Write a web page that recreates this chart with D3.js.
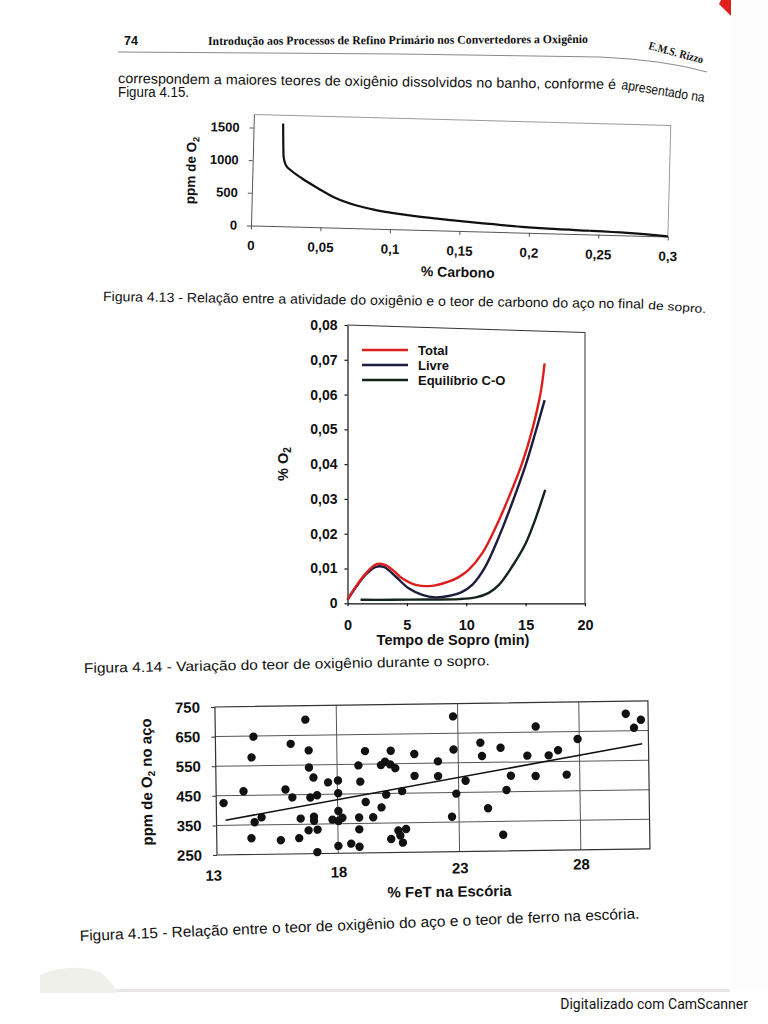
<!DOCTYPE html>
<html><head><meta charset="utf-8">
<script src="https://cdn.jsdelivr.net/npm/d3@7"></script>
<style>
body{margin:0;background:#fff;}
svg{display:block;}
text{font-family:"Liberation Sans",Arial,sans-serif;fill:#111;}
.serif{font-family:"Liberation Serif","Times New Roman",serif;}
.ax text{font-weight:bold;fill:#111;}
</style></head><body>
<svg id="page" width="768" height="1024"></svg>
<script>
// ---------- Figura 4.13 ----------
const c1Carbon = [0.0212,0.0222,0.024,0.0276,0.0359,0.0477,0.0595,0.0762,0.088,0.1,0.1236,0.1472,0.1717,0.1972,0.2203,0.2441,0.2706,0.3];
const c1Ppm    = [1573,1060,936,861,740,594,462,345,292,252,196,156,120,85,66,56,38,0];
const c1XTicks = [0,0.05,0.1,0.15,0.2,0.25,0.3];
const c1XLabels = ["0","0,05","0,1","0,15","0,2","0,25","0,3"];
const c1YTicks = [0,500,1000,1500];
const c1YLabels = ["0","500","1000","1500"];

// ---------- Figura 4.14 ----------
const c2XTicks = [0,5,10,15,20];
const c2XLabels = ["0","5","10","15","20"];
const c2YTicks = [0,0.01,0.02,0.03,0.04,0.05,0.06,0.07,0.08];
const c2YLabels = ["0","0,01","0,02","0,03","0,04","0,05","0,06","0,07","0,08"];
const c2Series = ["Total","Livre","Equilíbrio C-O"];
const tTotal = [0,0.7,1.55,2.4,3.1,3.8,4.6,5.75,7.1,8.5,9.4,10.2,11.35,12.5,13.6,14.7,15.55,16.25,16.6];
const oTotal = [0.0011,0.0048,0.0086,0.0112,0.0111,0.0096,0.0072,0.0053,0.005,0.0062,0.0076,0.0096,0.0144,0.022,0.0306,0.0402,0.0498,0.0603,0.069];
const tLivre = [0,0.7,1.55,2.4,3.1,4.05,5.15,6.3,7.4,8.5,9.65,10.5,11.6,12.75,13.85,15,15.8,16.6];
const oLivre = [0.001,0.0046,0.0083,0.0105,0.0104,0.0077,0.0043,0.0024,0.0017,0.0021,0.0033,0.0053,0.0105,0.0191,0.0287,0.0397,0.0488,0.0584];
const tEquil = [1.1,3.8,6.7,9.4,10.8,11.9,12.75,13.85,15.0,15.8,16.65];
const oEquil = [0.001,0.001,0.0011,0.0012,0.0017,0.003,0.0053,0.0105,0.0172,0.024,0.0326];

// ---------- Figura 4.15 ----------
const c3XTicks = [13,18,23,28];
const c3YTicks = [250,350,450,550,650,750];
const feT = [13.30,14.13,14.57,14.48,14.57,14.86,14.43,15.64,15.86,16.10,16.14,16.40,16.47,16.72,16.84,16.84,16.79,16.88,17.02,17.02,17.02,17.16,17.16,17.14,17.62,17.78,18.03,18.03,18.03,18.03,18.19,18.01,18.54,18.88,18.88,18.88,18.95,18.88,19.16,19.16,19.46,
  19.81,20.22,19.81,19.98,20.19,20.40,20.01,20.67,20.19,20.49,20.81,20.57,20.67,21.19,21.19,22.16,22.16,22.81,22.81,22.90,22.71,23.29,23.92,23.98,24.20,24.75,25.16,24.97,24.81,25.85,26.18,26.21,26.73,27.12,27.46,27.93,29.93,30.26,30.55];
const ppmO2 = [425,464,648,578,359,375,305,297,468,622,441,303,369,703,599,541,329,440,507,375,361,447,331,255,490,364,496,453,393,359,370,275,282,271,330,370,491,546,594,422,370,
  403,594,546,557,548,535,446,457,296,324,329,307,283,582,508,556,506,707,595,446,368,489,617,572,395,599,504,456,305,571,502,669,571,588,505,625,708,660,687];
const trendX = [13.37,30.59];
const trendY = [367,606];

const svg = d3.select("#page");
svg.append("rect").attr("width",768).attr("height",1024).attr("fill","#fff");
// page decorations
svg.append("rect").attr("x",731).attr("y",0).attr("width",37).attr("height",990).attr("fill","#fcfcfc");
svg.append("polygon").attr("points","721,0 731,0 731,16 719,4").attr("fill","#e0201e");
svg.append("rect").attr("x",40).attr("y",989).attr("width",690).attr("height",3).attr("fill","#e4dede").attr("opacity",0.8);
svg.append("path").attr("d","M40,993 L40,975 Q70,962 100,972 Q112,982 118,993 Z").attr("fill","#f0f0ea");

// header
svg.append("text").attr("x",124).attr("y",45).attr("font-size",12.5).attr("font-weight","bold").text("74");
svg.append("text").attr("class","serif").attr("x",208).attr("y",45).attr("font-size",12).attr("font-weight","bold")
  .attr("textLength",380).attr("lengthAdjust","spacingAndGlyphs").attr("transform","rotate(-0.3,208,45)")
  .text("Introdução aos Processos de Refino Primário nos Convertedores a Oxigênio");
svg.append("text").attr("class","serif").attr("x",648).attr("y",49).attr("font-size",11.5).attr("font-weight","bold")
  .attr("textLength",56).attr("lengthAdjust","spacingAndGlyphs").attr("transform","rotate(15,648,49)").text("E.M.S. Rizzo");
svg.append("path").attr("d","M118,52 L400,54 L600,57 Q665,60 707,72").attr("fill","none").attr("stroke","#8a8a8a").attr("stroke-width",1);

// paragraph
svg.append("text").attr("x",118).attr("y",83).attr("font-size",14).attr("textLength",498).attr("lengthAdjust","spacingAndGlyphs")
  .attr("transform","rotate(0.7,118,83)").text("correspondem a maiores teores de oxigênio dissolvidos no banho, conforme é");
svg.append("text").attr("x",621).attr("y",89).attr("font-size",13.5).attr("textLength",84).attr("lengthAdjust","spacingAndGlyphs")
  .attr("transform","rotate(9,621,89)").text("apresentado na");
svg.append("text").attr("x",118).attr("y",97).attr("font-size",14).attr("textLength",71).attr("lengthAdjust","spacingAndGlyphs").text("Figura 4.15.");

// ===== Chart 1 =====
{
  const L=251,R=668,B=225.5,T=114.5;
  const g = svg.append("g").attr("transform",`rotate(1.5,${L},${B})`);
  const x = d3.scaleLinear().domain([0,0.3]).range([L,R]);
  const y = d3.scaleLinear().domain([0,1700]).range([B,T]);
  g.append("path").attr("d",`M${L},${T}H${R}V${B}`).attr("fill","none").attr("stroke","#9a9a9a").attr("stroke-width",1);
  const xa = g.append("g").attr("class","ax").attr("transform",`translate(0,${B})`)
    .call(d3.axisBottom(x).tickValues(c1XTicks).tickFormat((d,i)=>c1XLabels[i]).tickSize(4).tickSizeOuter(0).tickPadding(11));
  xa.selectAll("text").attr("font-size",13.5);
  const ya = g.append("g").attr("class","ax").attr("transform",`translate(${L},0)`)
    .call(d3.axisLeft(y).tickValues(c1YTicks).tickFormat((d,i)=>c1YLabels[i]).tickSize(4).tickSizeOuter(0).tickPadding(10));
  ya.selectAll("text").attr("font-size",13);
  g.selectAll(".ax path,.ax line").attr("stroke","#555");
  const pts = c1Carbon.map((c,i)=>[c,c1Ppm[i]]);
  g.append("path").datum(pts).attr("fill","none").attr("stroke","#111").attr("stroke-width",2.2)
    .attr("d",d3.line().x(d=>x(d[0])).y(d=>y(d[1])).curve(d3.curveMonotoneX));
  g.append("text").attr("x",L+208).attr("y",B+46).attr("text-anchor","middle").attr("font-size",14).attr("font-weight","bold").text("% Carbono");
  const yt = g.append("text").attr("transform",`translate(${L-57},${(B+T)/2+2}) rotate(-90)`).attr("text-anchor","middle")
    .attr("font-size",13.5).attr("font-weight","bold");
  yt.append("tspan").text("ppm de O");
  yt.append("tspan").attr("font-size",9).attr("dy",3).text("2");
}
svg.append("text").attr("x",103).attr("y",301).attr("font-size",13.5).attr("textLength",541).attr("lengthAdjust","spacingAndGlyphs")
  .attr("transform","rotate(0.8,103,301)").text("Figura 4.13 - Relação entre a atividade do oxigênio e o teor de carbono do aço no final");
svg.append("text").attr("x",648).attr("y",309).attr("font-size",11.5).attr("textLength",58).attr("lengthAdjust","spacingAndGlyphs")
  .attr("transform","rotate(4,648,309)").text("de sopro.");

// ===== Chart 2 =====
{
  const L=347.5,R=585,B=603.3,T=325;
  const g = svg.append("g");
  const x = d3.scaleLinear().domain([0,20]).range([L,R]);
  const y = d3.scaleLinear().domain([0,0.08]).range([B,T]);
  g.append("path").attr("d",`M${L},${T}L${R},${T+7.5}V${B}`).attr("fill","none").attr("stroke","#333").attr("stroke-width",1);
  const xa = g.append("g").attr("class","ax").attr("transform",`translate(0,${B})`)
    .call(d3.axisBottom(x).tickValues(c2XTicks).tickFormat((d,i)=>c2XLabels[i]).tickSize(3).tickSizeOuter(0).tickPadding(13));
  xa.selectAll("text").attr("font-size",14.5);
  const ya = g.append("g").attr("class","ax").attr("transform",`translate(${L},0)`)
    .call(d3.axisLeft(y).tickValues(c2YTicks).tickFormat((d,i)=>c2YLabels[i]).tickSize(3).tickSizeOuter(0).tickPadding(7));
  ya.selectAll("text").attr("font-size",14);
  g.selectAll(".ax path,.ax line").attr("stroke","#111").attr("stroke-width",1.2);
  const colors = ["#dc1f1c","#1c1c3c","#15241a"];
  const series = [[tTotal,oTotal],[tLivre,oLivre],[tEquil,oEquil]];
  const line = d3.line().x(d=>x(d[0])).y(d=>y(d[1])).curve(d3.curveCatmullRom.alpha(0.5));
  [2,1,0].forEach(k=>{
    const pts = series[k][0].map((t,i)=>[t,series[k][1][i]]);
    g.append("path").datum(pts).attr("fill","none").attr("stroke",colors[k]).attr("stroke-width",2.4).attr("d",line);
  });
  const lg = g.append("g");
  c2Series.forEach((s,i)=>{
    const yy = 350 + i*15;
    lg.append("line").attr("x1",362).attr("x2",408).attr("y1",yy).attr("y2",yy).attr("stroke",colors[i]).attr("stroke-width",2.6);
    lg.append("text").attr("x",418).attr("y",yy+4.5).attr("font-size",13).attr("font-weight","bold").text(s);
  });
  g.append("text").attr("x",453).attr("y",645).attr("text-anchor","middle").attr("font-size",14.5).attr("font-weight","bold").text("Tempo de Sopro (min)");
  const yt = g.append("text").attr("transform",`translate(288,464) rotate(-90)`).attr("text-anchor","middle")
    .attr("font-size",14.5).attr("font-weight","bold");
  yt.append("tspan").text("% O");
  yt.append("tspan").attr("font-size",10).attr("dy",3).text("2");
}
svg.append("text").attr("x",84).attr("y",673).attr("font-size",14).attr("textLength",406).attr("lengthAdjust","spacingAndGlyphs")
  .attr("transform","rotate(-1.1,84,673)").text("Figura 4.14 - Variação do teor de oxigênio durante o sopro.");

// ===== Chart 3 =====
{
  const L=217,R=650,B=855,T=707;
  const g = svg.append("g").attr("transform",`rotate(-0.8,${L},${B})`);
  const x = d3.scaleLinear().domain([13,30.85]).range([L,R]);
  const y = d3.scaleLinear().domain([250,750]).range([B,T]);
  g.append("g").selectAll("line.h").data(c3YTicks.slice(1,-1)).join("line")
    .attr("x1",L).attr("x2",R).attr("y1",d=>y(d)).attr("y2",d=>y(d)).attr("stroke","#555").attr("stroke-width",1);
  g.append("g").selectAll("line.v").data(c3XTicks.slice(1)).join("line")
    .attr("x1",d=>x(d)).attr("x2",d=>x(d)).attr("y1",B).attr("y2",T).attr("stroke","#555").attr("stroke-width",1);
  g.append("rect").attr("x",L).attr("y",T).attr("width",R-L).attr("height",B-T).attr("fill","none").attr("stroke","#333").attr("stroke-width",1.2);
  const xa = g.append("g").attr("class","ax").attr("transform",`translate(0,${B})`)
    .call(d3.axisBottom(x).tickValues(c3XTicks).tickFormat(d3.format("d")).tickSize(0).tickPadding(15));
  xa.selectAll("text").attr("font-size",15).attr("dx",(d,i)=>[-4,0,0,0][i]).attr("dy",(d,i)=>[ "0.71em","0.6em","0.45em","0.3em"][i]);
  const ya = g.append("g").attr("class","ax").attr("transform",`translate(${L},0)`)
    .call(d3.axisLeft(y).tickValues(c3YTicks).tickFormat(d3.format("d")).tickSize(4).tickSizeOuter(0).tickPadding(11));
  ya.selectAll("text").attr("font-size",15);
  g.selectAll(".ax path").attr("stroke","none");
  g.selectAll(".ax line").attr("stroke","#333");
  g.append("g").selectAll("circle").data(feT.map((v,i)=>[v,ppmO2[i]])).join("circle")
    .attr("cx",d=>x(d[0])).attr("cy",d=>y(d[1])).attr("r",4.2).attr("fill","#111");
  g.append("line").attr("x1",x(trendX[0])).attr("y1",y(trendY[0])).attr("x2",x(trendX[1])).attr("y2",y(trendY[1]))
    .attr("stroke","#111").attr("stroke-width",1.6);
  g.append("text").attr("x",449).attr("y",B+45).attr("text-anchor","middle").attr("font-size",15).attr("font-weight","bold").text("% FeT na Escória");
  const yt = g.append("text").attr("transform",`translate(153,${(B+T)/2}) rotate(-90)`).attr("text-anchor","middle")
    .attr("font-size",15).attr("font-weight","bold");
  yt.append("tspan").text("ppm de O");
  yt.append("tspan").attr("font-size",10).attr("dy",3).text("2");
  yt.append("tspan").attr("dy",-3).text(" no aço");
}
svg.append("text").attr("x",80).attr("y",941).attr("font-size",15).attr("textLength",560).attr("lengthAdjust","spacingAndGlyphs")
  .attr("transform","rotate(-2.3,80,941)").text("Figura 4.15 - Relação entre o teor de oxigênio do aço e o teor de ferro na escória.");

// footer
svg.append("text").attr("x",748).attr("y",1009).attr("text-anchor","end")
  .attr("font-size",14).style("font-family","Roboto, sans-serif").attr("fill","#222").text("Digitalizado com CamScanner");
</script>
</body></html>
